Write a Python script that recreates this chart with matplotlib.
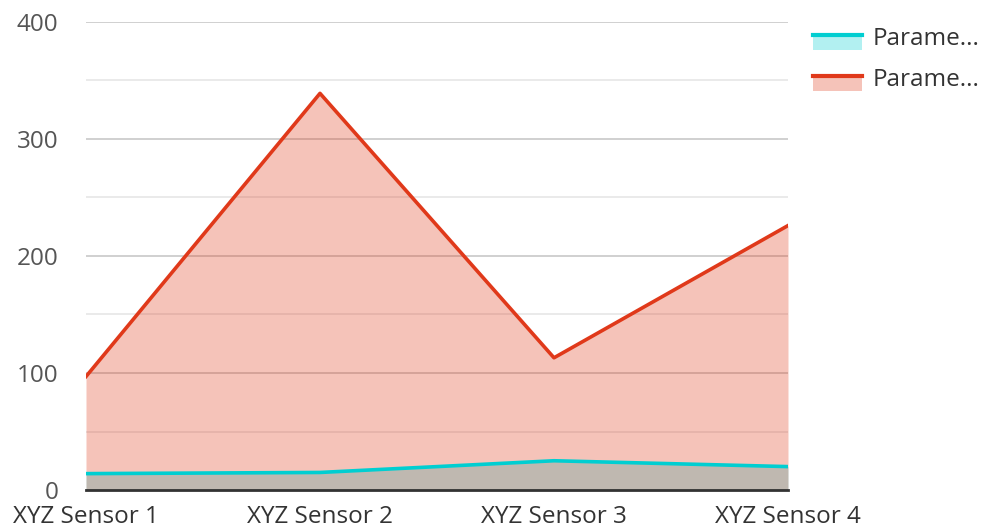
import matplotlib.pyplot as plt
from matplotlib.legend_handler import HandlerBase
from matplotlib.patches import Rectangle
from matplotlib.lines import Line2D

plt.rcParams['font.family'] = ['Open Sans', 'DejaVu Sans']

# data
sensors = ['XYZ Sensor 1', 'XYZ Sensor 2', 'XYZ Sensor 3', 'XYZ Sensor 4']
param_a = [14, 15, 25, 20]
param_b = [97, 339, 113, 226]
labels = ['Parame...', 'Parame...']
colors = ['#00CED1', '#E0391A']


class AreaHandler(HandlerBase):
    # line on top, lighter band below it
    def create_artists(self, legend, orig, xd, yd, w, h, fontsize, trans):
        c = orig.get_color()
        top = yd + h * 0.6
        bot = yd - h * 0.3
        rect = Rectangle((xd, bot), w, top - bot,
                         facecolor=c, alpha=0.3, edgecolor='none', transform=trans)
        line = Line2D([xd, xd + w], [top, top], color=c, lw=3, transform=trans)
        return [rect, line]


fig = plt.figure(figsize=(9.84, 5.31), dpi=100)
ax = fig.add_axes([0.0874, 0.0772, 0.7134, 0.8814])

x = range(len(sensors))
handles = []
for vals, c in zip([param_a, param_b], colors):
    ax.fill_between(x, 0, vals, color=c, alpha=0.3, lw=0)
    ln, = ax.plot(x, vals, color=c, lw=2.6)
    handles.append(ln)

ax.set_xlim(0, 3)
ax.set_ylim(0, 400)
ax.set_xticks(list(x))
ax.set_xticklabels(sensors, fontsize=17.5, color='#333333')
ax.set_yticks([0, 100, 200, 300, 400])
ax.set_yticks([50, 150, 250, 350], minor=True)
ax.tick_params(axis='y', length=0, pad=20, labelsize=17.5, labelcolor='#555555')
ax.tick_params(axis='y', which='minor', length=0)
ax.tick_params(axis='x', length=0, pad=11)
ax.grid(axis='y', which='major', color='#c8c8c8', lw=1.2)
ax.grid(axis='y', which='minor', color='#e6e6e6', lw=1.2)
ax.set_axisbelow(True)
for s in ['top', 'right', 'left']:
    ax.spines[s].set_visible(False)
ax.spines['bottom'].set_color('#333333')
ax.spines['bottom'].set_linewidth(2)

fig.legend(handles, labels, loc='upper left', bbox_to_anchor=(0.804, 0.99),
           frameon=False, fontsize=17.5, handler_map={Line2D: AreaHandler()},
           handlelength=2.0, handletextpad=0.45, labelspacing=0.7,
           labelcolor='#333333')

fig.savefig('out.png', dpi=100)
